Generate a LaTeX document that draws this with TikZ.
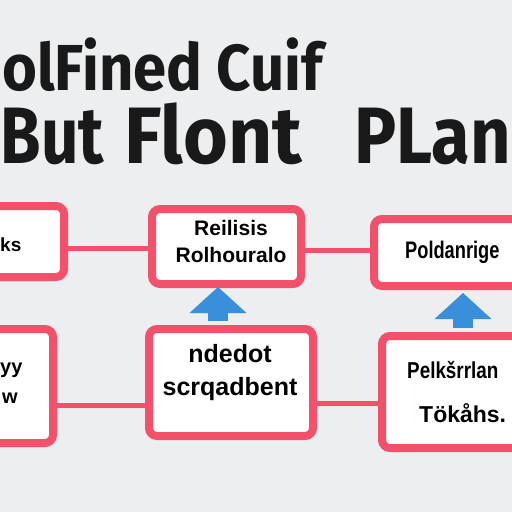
\documentclass[tikz,border=0pt]{standalone}
\usepackage{fontspec}
\usepackage{graphicx}
\setmainfont{Liberation Sans}
\newfontfamily\titlefont{Fira Sans}
\usetikzlibrary{arrows.meta}
\definecolor{bg}{HTML}{ECEEEF}
\definecolor{boxred}{HTML}{F2506B}
\definecolor{arrowblue}{HTML}{3A8FDB}
\tikzset{
  box/.style={draw=boxred, line width=8pt, fill=white, rounded corners=8pt, inner sep=0pt},
  link/.style={draw=boxred, line width=5pt},
  uparrow/.style={draw=arrowblue, line width=20pt, shorten <=4pt,
     -{Triangle[width=57pt,length=26pt,line width=0pt]}},
  boxtext/.style={font=\bfseries\fontsize{19}{26}\selectfont, align=center, inner sep=0pt, text=black},
  titletext/.style={inner sep=0pt, anchor=base west, text=black!90}
}
\begin{document}
\begin{tikzpicture}[x=1pt,y=-1pt]
\useasboundingbox (0,0) rectangle (512,512);
\clip (0,0) rectangle (512,512);
\fill[bg] (0,0) rectangle (512,512);

% title
\node[titletext, font=\titlefont\bfseries\fontsize{65}{65}\selectfont] (t1) at (2,90) {\scalebox{0.92}[1]{olFined Cuif}};
\node[titletext, font=\titlefont\bfseries\fontsize{80}{80}\selectfont] (t2a) at (0.5,163) {\scalebox{0.82}[1]{But}};
\node[titletext, font=\titlefont\bfseries\fontsize{80}{80}\selectfont] (t2b) at (124,163) {\scalebox{0.96}[1]{Flont}};
\node[titletext, font=\titlefont\bfseries\fontsize{80}{80}\selectfont] (t2c) at (354,163) {\scalebox{0.88}[1]{PLan}};

% boxes
\node[box, minimum width=124pt, minimum height=71pt] (A) at (2,241.5) {};
\node[box, minimum width=149pt, minimum height=75pt] (B) at (226.5,246.5) {};
\node[box, minimum width=206pt, minimum height=67pt] (C) at (477,252.5) {};
\node[box, minimum width=113pt, minimum height=114pt] (D) at (-3.5,386) {};
\node[box, minimum width=164pt, minimum height=107pt] (E) at (231,382.5) {};
\node[box, minimum width=198pt, minimum height=112pt] (F) at (481,392) {};

% texts
\node[boxtext, anchor=west] (ta) at (0,245) {ks};
\node[boxtext, font=\bfseries\fontsize{21}{27}\selectfont] (tb) at (231,241.5) {Reilisis\\Rolhouralo};
\node[boxtext, anchor=west, font=\bfseries\fontsize{24}{26}\selectfont] (tc) at (405,252) {\scalebox{0.76}[1]{Poldanrige}};
\node[boxtext, anchor=west, font=\bfseries\fontsize{20}{26}\selectfont] (td1) at (0,370) {yy};
\node[boxtext, anchor=west, font=\bfseries\fontsize{20}{26}\selectfont] (td2) at (2,398) {w};
\node[boxtext, font=\bfseries\fontsize{25}{33}\selectfont] (te) at (230,372.5) {ndedot\\scrqadbent};
\node[boxtext, anchor=west, font=\bfseries\fontsize{23}{26}\selectfont] (tf1) at (407,370) {\scalebox{0.82}[1]{Pelkšrrlan}};
\node[boxtext, anchor=west, font=\bfseries\fontsize{23}{26}\selectfont] (tf2) at (419,413) {Tökåhs.};

% horizontal links
\coordinate (l1) at (0,248);
\coordinate (l2) at (0,250);
\coordinate (l3) at (0,405);
\coordinate (l4) at (0,403);
\draw[link] (A.east |- l1) -- (B.west |- l1);
\draw[link] (B.east |- l2) -- (C.west |- l2);
\draw[link] (D.east |- l3) -- (E.west |- l3);
\draw[link] (E.east |- l4) -- (F.west |- l4);

% up arrows
\coordinate (ax1) at (218,0);
\coordinate (ax2) at (463,0);
\coordinate (tip1) at (218,287);
\coordinate (tip2) at (463,293);
\draw[uparrow] (ax1 |- E.north) -- (tip1);
\draw[uparrow] (ax2 |- F.north) -- (tip2);
\end{tikzpicture}
\end{document}
